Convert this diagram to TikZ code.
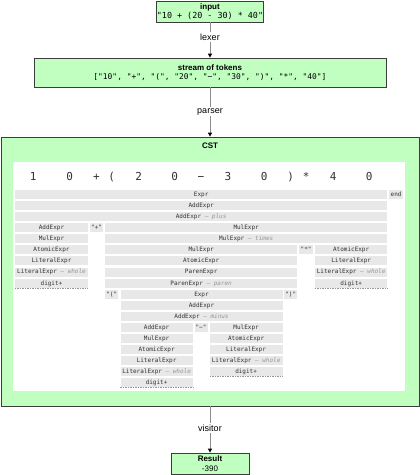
\documentclass[tikz,border=0pt]{standalone}
\usepackage{fontspec}
\setmainfont{Liberation Sans}
\setmonofont{DejaVu Sans Mono}
\usetikzlibrary{arrows.meta}
\definecolor{gfill}{RGB}{192,255,192}
\definecolor{gline}{RGB}{60,60,60}
\definecolor{cellbg}{RGB}{232,232,232}
\definecolor{celltx}{RGB}{50,50,50}
\definecolor{subtx}{RGB}{150,150,150}
\definecolor{connc}{RGB}{140,140,140}
\newcommand\subv[1]{\ \textcolor{subtx}{–\ \textit{#1}}}
\newcommand\cstcell[6][]{\node[cell,#1,minimum width={#4-#3}] (#2) at ({(#3+#4)/2},{194.5+11.08*#5}) {#6};}
\tikzset{
  gbox/.style={draw=gline, fill=gfill, line width=0.8pt, inner sep=0pt, align=center, font=\fontsize{8}{9.5}\selectfont},
  cell/.style={fill=cellbg, inner sep=0pt, minimum height=9pt, text height=5pt, text depth=1.2pt, text=celltx, font=\fontsize{6}{7}\ttfamily},
  tok/.style={text=celltx, font=\fontsize{11}{12}\ttfamily, inner sep=0pt, anchor=base},
  conn/.style={draw=connc, line width=1pt, -{Triangle[length=4pt,width=4pt,color=black]}},
  lbl/.style={fill=white, font=\fontsize{9}{10}\selectfont, inner sep=1.5pt},
  digline/.style={draw=subtx, dash pattern=on 1.5pt off 1pt, line width=0.5pt},
  titletxt/.style={font=\fontsize{8}{9.5}\selectfont\bfseries, inner sep=0pt},
}
\begin{document}
\begin{tikzpicture}[x=1pt,y=-1pt]
\useasboundingbox (0,0) rectangle (420,475);
% boxes
\node[gbox, minimum width=107pt, minimum height=21pt] (input) at (210,11.5)
  {\textbf{input}\\{\ttfamily\fontsize{8.4}{9.5}\selectfont "10 + (20 - 30) * 40"}};
\node[gbox, minimum width=352pt, minimum height=29pt] (tokens) at (210,72.5)
  {\textbf{stream of tokens}\\{\ttfamily\fontsize{7.9}{9}\selectfont ["10", "+", "(", "20", "−", "30", ")", "*", "40"]}};
\node[gbox, minimum width=418pt, minimum height=269pt] (cst) at (210,271.5) {};
\node[titletxt] (csttitle) at (210,146) {CST};
\node[fill=white, inner sep=0pt, minimum width=392pt, minimum height=229pt] (panel) at (209,276.5) {};
\node[gbox, minimum width=78pt, minimum height=21pt] (result) at (210,463.5)
  {\textbf{Result}\\-390};
% connectors
\draw[conn] (input) -- node[lbl,pos=0.41]{lexer} (tokens);
\draw[conn] (tokens) -- node[lbl,pos=0.49]{parser} (cst);
\draw[conn] (cst) -- node[lbl,pos=0.47]{visitor} (result);
% token row
\node[tok] (t1) at (33.3,180.7) {1};
\node[tok] (t2) at (69.8,180.7) {0};
\node[tok] (t3) at (96.5,180.7) {+};
\node[tok] (t4) at (111.7,180.7) {(};
\node[tok] (t5) at (138.6,180.7) {2};
\node[tok] (t6) at (174.7,180.7) {0};
\node[tok] (t7) at (201,180.7) {−};
\node[tok] (t8) at (227.9,180.7) {3};
\node[tok] (t9) at (264.3,180.7) {0};
\node[tok] (t10) at (290.8,180.7) {)};
\node[tok] (t11) at (306.1,180.7) {*};
\node[tok] (t12) at (333.1,180.7) {4};
\node[tok] (t13) at (369.2,180.7) {0};
% CST cells
\cstcell{r0a}{15}{387.3}{0}{Expr}
\cstcell{r0b}{389}{403.3}{0}{end}
\cstcell{r1a}{15}{387.3}{1}{AddExpr}
\cstcell{r2a}{15}{387.3}{2}{AddExpr\subv{plus}}
\cstcell{r3a}{15}{88}{3}{AddExpr}
\cstcell{r3b}{90}{103}{3}{"+"}
\cstcell{r3c}{105}{387.3}{3}{MulExpr}
\cstcell{r4a}{15}{88}{4}{MulExpr}
\cstcell{r4c}{105}{387.3}{4}{MulExpr\subv{times}}
\cstcell{r5a}{15}{88}{5}{AtomicExpr}
\cstcell{r5c}{105}{297.3}{5}{MulExpr}
\cstcell{r5d}{299.2}{313}{5}{"*"}
\cstcell{r5e}{315}{387.3}{5}{AtomicExpr}
\cstcell{r6a}{15}{88}{6}{LiteralExpr}
\cstcell{r6c}{105}{297.3}{6}{AtomicExpr}
\cstcell{r6e}{315}{387.3}{6}{LiteralExpr}
\cstcell{r7a}{15}{88}{7}{LiteralExpr\subv{whole}}
\cstcell{r7c}{105}{297.3}{7}{ParenExpr}
\cstcell{r7e}{315}{387.3}{7}{LiteralExpr\subv{whole}}
\cstcell{r8a}{15}{88}{8}{digit+}
\cstcell{r8c}{105}{297.3}{8}{ParenExpr\subv{paren}}
\cstcell{r8e}{315}{387.3}{8}{digit+}
\cstcell{r9a}{105}{118.3}{9}{"("}
\cstcell{r9b}{120.5}{282.5}{9}{Expr}
\cstcell{r9c}{284.3}{297.3}{9}{")"}
\cstcell{r10a}{120.5}{282.5}{10}{AddExpr}
\cstcell{r11a}{120.5}{282.5}{11}{AddExpr\subv{minus}}
\cstcell{r12a}{120.5}{192.7}{12}{AddExpr}
\cstcell{r12b}{194.5}{207.5}{12}{"−"}
\cstcell{r12c}{209.7}{282.5}{12}{MulExpr}
\cstcell{r13a}{120.5}{192.7}{13}{MulExpr}
\cstcell{r13c}{209.7}{282.5}{13}{AtomicExpr}
\cstcell{r14a}{120.5}{192.7}{14}{AtomicExpr}
\cstcell{r14c}{209.7}{282.5}{14}{LiteralExpr}
\cstcell{r15a}{120.5}{192.7}{15}{LiteralExpr}
\cstcell{r15c}{209.7}{282.5}{15}{LiteralExpr\subv{whole}}
\cstcell{r16a}{120.5}{192.7}{16}{LiteralExpr\subv{whole}}
\cstcell{r16c}{209.7}{282.5}{16}{digit+}
\cstcell{r17a}{120.5}{192.7}{17}{digit+}
% dashed bottoms of digit cells
\foreach \d in {r8a,r8e,r16c,r17a}
  \draw[digline] (\d.south west) -- (\d.south east);
\end{tikzpicture}
\end{document}
